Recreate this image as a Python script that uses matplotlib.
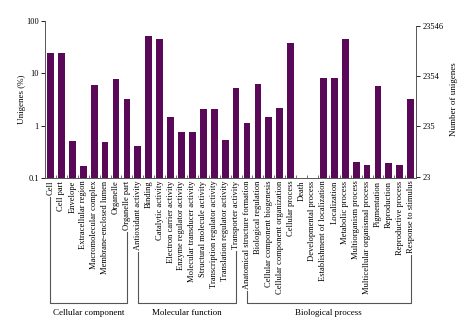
import numpy as np
import matplotlib
matplotlib.use('agg')
from matplotlib import pyplot as plt
from matplotlib.lines import Line2D

plt.rcParams['font.family'] = 'Liberation Serif'

# GO terms per category and the share of unigenes (%) in each
cellular_component = ['Cell', 'Cell part', 'Envelope', 'Extracellular region',
                      'Macromolecular complex', 'Membrane-enclosed lumen',
                      'Organelle', 'Organelle part']
cc_values = [24.0, 24.0, 0.50, 0.17, 5.9, 0.49, 7.9, 3.3]

molecular_function = ['Antioxidant activity', 'Binding', 'Catalytic activity',
                      'Electron carrier activity', 'Enzyme regulator activity',
                      'Molecular transducer activity', 'Structural molecule activity',
                      'Transcription regulator activity',
                      'Translation regulator activity', 'Transporter activity']
mf_values = [0.41, 52.0, 45.0, 1.45, 0.75, 0.77, 2.1, 2.1, 0.53, 5.2]

biological_process = ['Anatomical structure formation', 'Biological regulation',
                      'Cellular component biogenesis',
                      'Cellular component organization', 'Cellular process',
                      'Death', 'Developmental process',
                      'Establishment of localization', 'Localization',
                      'Metabolic process', 'Multiorganism process',
                      'Multicellular organismal process', 'Pigmentation',
                      'Reproduction', 'Reproductive process',
                      'Response to stimulus']
bp_values = [1.11, 6.2, 1.45, 2.15, 38.5, 0.004, 0.004, 8.3, 8.3, 45.0,
             0.20, 0.18, 5.8, 0.196, 0.177, 3.2]

group_names = ['Cellular component', 'Molecular function', 'Biological process']
total_unigenes = 23546
right_ticks = [23, 235, 2354, 23546]

bar_color = '#5a0858'
line_color = '#555555'

terms = cellular_component + molecular_function + biological_process
values = cc_values + mf_values + bp_values
group_sizes = [len(cellular_component), len(molecular_function),
               len(biological_process)]
x = np.arange(len(terms))

fig = plt.figure(figsize=(4.74, 3.35), dpi=100)
ax = fig.add_axes([0.095, 0.469, 0.783, 0.468])

ax.bar(x, values, width=0.62, color=bar_color, zorder=2)
ax.set_yscale('log')
ax.set_ylim(0.1, 100)
ax.set_xlim(-0.5, len(terms) - 0.5)

ax.set_yticks([0.1, 1, 10, 100])
ax.set_yticklabels(['0.1', '1', '10', '100'])
ax.yaxis.set_minor_locator(matplotlib.ticker.NullLocator())
ax.tick_params(axis='y', labelsize=6, length=3, width=0.6, pad=1.5)
ax.set_ylabel('Unigenes (%)', fontsize=6.5, labelpad=0)

ax.set_xticks(x)
ax.set_xticklabels(terms, rotation=90, fontsize=6.1, va='top', ha='center')
ax.tick_params(axis='x', which='major', length=0, pad=2)
ax.set_xticks(np.arange(len(terms) + 1) - 0.5, minor=True)
ax.tick_params(axis='x', which='minor', direction='in', length=2.5,
               width=0.6, color=line_color)

for side in ['top', 'right']:
    ax.spines[side].set_visible(False)
for side in ['left', 'bottom']:
    ax.spines[side].set_linewidth(0.7)
    ax.spines[side].set_color(line_color)

# count axis on the right, same log scale expressed in number of unigenes
ax2 = ax.twinx()
ax2.set_yscale('log')
ax2.set_ylim(22.0, 29600)
ax2.set_yticks(right_ticks)
ax2.set_yticklabels([str(t) for t in right_ticks])
ax2.yaxis.set_minor_locator(matplotlib.ticker.NullLocator())
ax2.tick_params(axis='y', labelsize=6, length=3, width=0.6, pad=1.5)
ax2.spines['right'].set_bounds(22.0, total_unigenes)
ax2.spines['right'].set_linewidth(0.7)
ax2.spines['right'].set_color(line_color)
for side in ['top', 'left', 'bottom']:
    ax2.spines[side].set_visible(False)
ax2.set_ylabel('Number of unigenes', fontsize=6.5, labelpad=5)

# brackets under the tick labels for each GO category
fig.canvas.draw()
renderer = fig.canvas.get_renderer()
labels = ax.get_xticklabels()
inv = fig.transFigure.inverted()
bracket_y = 1 - 303 / 335
start = 0
for name, size in zip(group_names, group_sizes):
    first = labels[start].get_window_extent(renderer)
    last = labels[start + size - 1].get_window_extent(renderer)
    x0, y0 = inv.transform(((first.x0 + first.x1) / 2, first.y0 - 2))
    x1, y1 = inv.transform(((last.x0 + last.x1) / 2, last.y0 - 2))
    fig.add_artist(Line2D([x0, x0, x1, x1], [y0, bracket_y, bracket_y, y1],
                          color=line_color, lw=0.8))
    fig.text((x0 + x1) / 2, bracket_y - 0.018, name, ha='center', va='top',
             fontsize=6.5)
    start += size

fig.savefig('out.png', dpi=100)
